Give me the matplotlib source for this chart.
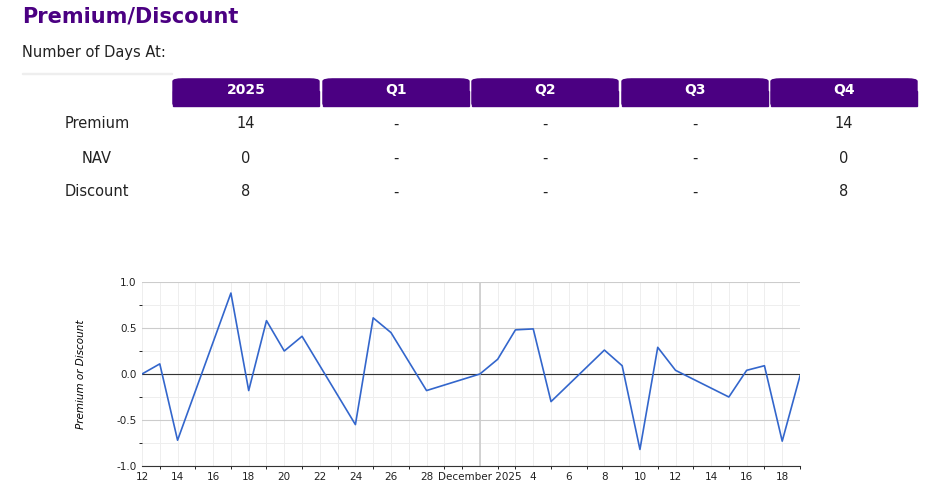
import matplotlib
matplotlib.use("Agg")
import matplotlib.pyplot as plt
import matplotlib.dates as mdates
from matplotlib.patches import FancyBboxPatch, Rectangle
import numpy as np

W, H = 940, 493
PURPLE = "#4b0082"

# table data
col_heads = ["2025", "Q1", "Q2", "Q3", "Q4"]
row_heads = ["Premium", "NAV", "Discount"]
cells = [["14", "-", "-", "-", "14"],
         ["0", "-", "-", "-", "0"],
         ["8", "-", "-", "-", "8"]]

# chart data
dates = ["2025-11-12", "2025-11-13", "2025-11-14", "2025-11-17", "2025-11-18",
         "2025-11-19", "2025-11-20", "2025-11-21", "2025-11-24", "2025-11-25",
         "2025-11-26", "2025-11-28", "2025-12-01", "2025-12-02", "2025-12-03",
         "2025-12-04", "2025-12-05", "2025-12-08", "2025-12-09", "2025-12-10",
         "2025-12-11", "2025-12-12", "2025-12-15", "2025-12-16", "2025-12-17",
         "2025-12-18", "2025-12-19"]
values = [0.0, 0.11, -0.72, 0.88, -0.18, 0.58, 0.25, 0.41, -0.55, 0.61,
          0.45, -0.18, 0.0, 0.16, 0.48, 0.49, -0.30, 0.26, 0.09, -0.82,
          0.29, 0.04, -0.25, 0.04, 0.09, -0.73, -0.02]
tick_dates = ["2025-11-12", "2025-11-14", "2025-11-16", "2025-11-18", "2025-11-20",
              "2025-11-22", "2025-11-24", "2025-11-26", "2025-11-28", "2025-12-01",
              "2025-12-04", "2025-12-06", "2025-12-08", "2025-12-10", "2025-12-12",
              "2025-12-14", "2025-12-16", "2025-12-18"]
tick_labels = ["12", "14", "16", "18", "20", "22", "24", "26", "28", "December 2025",
               "4", "6", "8", "10", "12", "14", "16", "18"]


def fx(x):
    return x / W


def fy(y):
    return 1 - y / H


fig = plt.figure(figsize=(9.4, 4.93), dpi=100)
fig.text(fx(22), fy(17), "Premium/Discount", color=PURPLE, fontsize=15,
         fontweight="bold", va="center", ha="left")
fig.text(fx(22), fy(52), "Number of Days At:", color="#222222", fontsize=10.5,
         va="center", ha="left")

# table
fig.add_artist(Rectangle((fx(22), fy(74)), fx(150), 0.002, color="#eeeeee",
                         transform=fig.transFigure))
cx = [246, 396, 545, 695, 844]
for x, h in zip(cx, col_heads):
    fig.add_artist(FancyBboxPatch((fx(x - 73), fy(106)), fx(146), fy(73) - fy(106) - 0.012,
                                  boxstyle="round,pad=0,rounding_size=0.01",
                                  color=PURPLE, transform=fig.transFigure, mutation_aspect=0.5))
    fig.add_artist(Rectangle((fx(x - 73), fy(106)), fx(146), 0.03, color=PURPLE,
                             transform=fig.transFigure))
    fig.text(fx(x), fy(90), h, color="white", fontsize=10, fontweight="bold",
             ha="center", va="center")
for ry, rh, row in zip([124, 158, 192], row_heads, cells):
    fig.text(fx(97), fy(ry), rh, fontsize=10.5, color="#222222", ha="center", va="center")
    for x, v in zip(cx, row):
        fig.text(fx(x), fy(ry), v, fontsize=10.5, color="#222222", ha="center", va="center")

# chart
ax = fig.add_axes([fx(142), fy(466), fx(800 - 142), fy(282) - fy(466)])
d = np.array(dates, dtype="datetime64[D]")
ax.plot(d, values, color="#3366cc", lw=1.2, zorder=3)
ax.set_xlim(np.datetime64("2025-11-12"), np.datetime64("2025-12-19"))
ax.set_ylim(-1, 1)
ax.set_yticks([-1, -0.5, 0, 0.5, 1])
ax.set_yticklabels(["-1.0", "-0.5", "0.0", "0.5", "1.0"])
ax.set_yticks([-0.75, -0.25, 0.25, 0.75], minor=True)
ax.set_xticks(np.array(tick_dates, dtype="datetime64[D]"))
ax.set_xticklabels(tick_labels)
ax.xaxis.set_minor_locator(mdates.DayLocator())
ax.grid(True, which="major", axis="y", color="#cccccc", lw=0.8)
ax.grid(True, which="minor", color="#eeeeee", lw=0.7)
ax.grid(True, which="major", axis="x", color="#eeeeee", lw=0.7)
ax.axhline(0, color="#333333", lw=0.8, zorder=2)
ax.axvline(np.datetime64("2025-12-01"), color="#cccccc", lw=1.2, zorder=2)
ax.tick_params(labelsize=7.5, length=0, colors="#222222", pad=4)
for s in ax.spines.values():
    s.set_visible(False)
ax.spines["bottom"].set_visible(True)
ax.spines["bottom"].set_color("#333333")
ax.set_ylabel("Premium or Discount", fontsize=7.5, style="italic", labelpad=22)

fig.savefig("out.png", dpi=100)
